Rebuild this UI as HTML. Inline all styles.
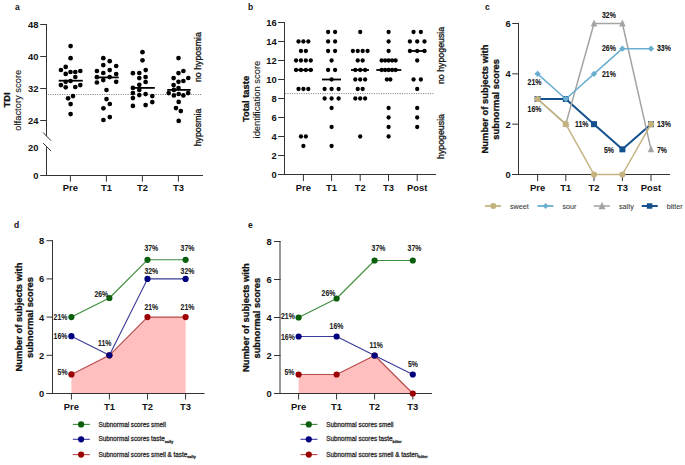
<!DOCTYPE html>
<html><head><meta charset="utf-8"><style>
html,body{margin:0;padding:0;background:#fff;width:685px;height:465px;overflow:hidden;position:relative}
</style></head><body>
<svg width="685" height="465" viewBox="0 0 685 465" style="position:absolute;left:0;top:0;font-family:'Liberation Sans', sans-serif">
<rect width="685" height="465" fill="#ffffff"/>
<text x="15" y="10" font-size="8.5" font-weight="bold" text-anchor="start" fill="#111111" >a</text>
<text x="248" y="10" font-size="8.5" font-weight="bold" text-anchor="start" fill="#111111" >b</text>
<text x="485" y="10" font-size="8.5" font-weight="bold" text-anchor="start" fill="#111111" >c</text>
<text x="14" y="228" font-size="8.5" font-weight="bold" text-anchor="start" fill="#111111" >d</text>
<text x="248" y="228" font-size="8.5" font-weight="bold" text-anchor="start" fill="#111111" >e</text>
<line x1="46.5" y1="24" x2="46.5" y2="136.2" stroke="#333333" stroke-width="1.0" />
<line x1="46.5" y1="147.2" x2="46.5" y2="175.5" stroke="#333333" stroke-width="1.0" />
<line x1="43.1" y1="132.5" x2="51" y2="140.7" stroke="#333333" stroke-width="1.0" />
<line x1="43.1" y1="143.1" x2="51" y2="151" stroke="#333333" stroke-width="1.0" />
<line x1="40.2" y1="175.5" x2="203" y2="175.5" stroke="#333333" stroke-width="1.0" />
<line x1="40.2" y1="24.5" x2="47.0" y2="24.5" stroke="#333333" stroke-width="1.0" />
<text x="38.4" y="27.9" font-size="9.4" font-weight="bold" text-anchor="end" fill="#111111" >48</text>
<line x1="40.2" y1="56.5" x2="47.0" y2="56.5" stroke="#333333" stroke-width="1.0" />
<text x="38.4" y="59.9" font-size="9.4" font-weight="bold" text-anchor="end" fill="#111111" >40</text>
<line x1="40.2" y1="88.5" x2="47.0" y2="88.5" stroke="#333333" stroke-width="1.0" />
<text x="38.4" y="91.9" font-size="9.4" font-weight="bold" text-anchor="end" fill="#111111" >32</text>
<line x1="40.2" y1="120.5" x2="47.0" y2="120.5" stroke="#333333" stroke-width="1.0" />
<text x="38.4" y="123.9" font-size="9.4" font-weight="bold" text-anchor="end" fill="#111111" >24</text>
<text x="38.4" y="150.8" font-size="9.4" font-weight="bold" text-anchor="end" fill="#111111" >20</text>
<text x="38.4" y="178.6" font-size="9.4" font-weight="bold" text-anchor="end" fill="#111111" >0</text>
<line x1="70.4" y1="175.2" x2="70.4" y2="181.6" stroke="#333333" stroke-width="1.0" />
<text x="70.4" y="191.4" font-size="9.4" font-weight="bold" text-anchor="middle" fill="#111111" >Pre</text>
<line x1="106.4" y1="175.2" x2="106.4" y2="181.6" stroke="#333333" stroke-width="1.0" />
<text x="106.4" y="191.4" font-size="9.4" font-weight="bold" text-anchor="middle" fill="#111111" >T1</text>
<line x1="142.4" y1="175.2" x2="142.4" y2="181.6" stroke="#333333" stroke-width="1.0" />
<text x="142.4" y="191.4" font-size="9.4" font-weight="bold" text-anchor="middle" fill="#111111" >T2</text>
<line x1="178.4" y1="175.2" x2="178.4" y2="181.6" stroke="#333333" stroke-width="1.0" />
<text x="178.4" y="191.4" font-size="9.4" font-weight="bold" text-anchor="middle" fill="#111111" >T3</text>
<text transform="translate(9.8,100) rotate(-90)" font-size="9.4" font-weight="bold" text-anchor="middle" fill="#111111" stroke="#111111" stroke-width="0.3">TDI</text>
<text transform="translate(21.1,100.2) rotate(-90)" font-size="9.4" font-weight="normal" text-anchor="middle" fill="#111111" stroke="#111111" stroke-width="0.1">olfactory score</text>
<text transform="translate(201.1,57.1) rotate(-90)" font-size="8.8" font-weight="normal" text-anchor="middle" fill="#111111" stroke="#111111" stroke-width="0.3">no hyposmia</text>
<text transform="translate(200.7,127.5) rotate(-90)" font-size="8.8" font-weight="normal" text-anchor="middle" fill="#111111" stroke="#111111" stroke-width="0.3">hyposmia</text>
<line x1="48" y1="94.5" x2="202" y2="94.5" stroke="#777777" stroke-width="0.9" stroke-dasharray="1.1 1.24"/>
<circle cx="70.6" cy="46.05" r="2.35" fill="#000"/>
<circle cx="70.6" cy="58.2" r="2.35" fill="#000"/>
<circle cx="65.7" cy="66.9" r="2.35" fill="#000"/>
<circle cx="60.9" cy="70" r="2.35" fill="#000"/>
<circle cx="65.7" cy="73.9" r="2.35" fill="#000"/>
<circle cx="70.5" cy="72" r="2.35" fill="#000"/>
<circle cx="75.3" cy="72" r="2.35" fill="#000"/>
<circle cx="80.3" cy="71" r="2.35" fill="#000"/>
<circle cx="75.3" cy="77" r="2.35" fill="#000"/>
<circle cx="65.7" cy="81.8" r="2.35" fill="#000"/>
<circle cx="70.5" cy="81" r="2.35" fill="#000"/>
<circle cx="60.9" cy="85.1" r="2.35" fill="#000"/>
<circle cx="65.7" cy="87.3" r="2.35" fill="#000"/>
<circle cx="75.3" cy="87" r="2.35" fill="#000"/>
<circle cx="80.3" cy="85.1" r="2.35" fill="#000"/>
<circle cx="73" cy="96.1" r="2.35" fill="#000"/>
<circle cx="68.1" cy="98.3" r="2.35" fill="#000"/>
<circle cx="70.6" cy="104.1" r="2.35" fill="#000"/>
<circle cx="70.6" cy="114.1" r="2.35" fill="#000"/>
<circle cx="103.3" cy="58.2" r="2.35" fill="#000"/>
<circle cx="109.7" cy="61.2" r="2.35" fill="#000"/>
<circle cx="103.3" cy="65.1" r="2.35" fill="#000"/>
<circle cx="116.2" cy="66" r="2.35" fill="#000"/>
<circle cx="96.9" cy="71" r="2.35" fill="#000"/>
<circle cx="109.7" cy="70.1" r="2.35" fill="#000"/>
<circle cx="103.3" cy="73" r="2.35" fill="#000"/>
<circle cx="116.2" cy="74" r="2.35" fill="#000"/>
<circle cx="96.9" cy="77.2" r="2.35" fill="#000"/>
<circle cx="109.7" cy="77.1" r="2.35" fill="#000"/>
<circle cx="103.3" cy="80.1" r="2.35" fill="#000"/>
<circle cx="96.9" cy="82.5" r="2.35" fill="#000"/>
<circle cx="116.2" cy="81.8" r="2.35" fill="#000"/>
<circle cx="106.5" cy="90" r="2.35" fill="#000"/>
<circle cx="106.5" cy="99.1" r="2.35" fill="#000"/>
<circle cx="109.8" cy="104" r="2.35" fill="#000"/>
<circle cx="103.4" cy="108.3" r="2.35" fill="#000"/>
<circle cx="109.8" cy="117.1" r="2.35" fill="#000"/>
<circle cx="103.4" cy="120" r="2.35" fill="#000"/>
<circle cx="142.5" cy="52.2" r="2.35" fill="#000"/>
<circle cx="142.5" cy="60.3" r="2.35" fill="#000"/>
<circle cx="145.7" cy="70.1" r="2.35" fill="#000"/>
<circle cx="132.9" cy="73.2" r="2.35" fill="#000"/>
<circle cx="139.3" cy="73" r="2.35" fill="#000"/>
<circle cx="139.3" cy="78.1" r="2.35" fill="#000"/>
<circle cx="145.6" cy="77.1" r="2.35" fill="#000"/>
<circle cx="145.6" cy="82" r="2.35" fill="#000"/>
<circle cx="139.3" cy="84.8" r="2.35" fill="#000"/>
<circle cx="132.9" cy="87.9" r="2.35" fill="#000"/>
<circle cx="139.3" cy="90" r="2.35" fill="#000"/>
<circle cx="132.9" cy="93.1" r="2.35" fill="#000"/>
<circle cx="139.3" cy="95.1" r="2.35" fill="#000"/>
<circle cx="145.6" cy="94.1" r="2.35" fill="#000"/>
<circle cx="152.3" cy="96.1" r="2.35" fill="#000"/>
<circle cx="132.9" cy="98.1" r="2.35" fill="#000"/>
<circle cx="152.3" cy="102.1" r="2.35" fill="#000"/>
<circle cx="132.9" cy="105.9" r="2.35" fill="#000"/>
<circle cx="145.6" cy="105.1" r="2.35" fill="#000"/>
<circle cx="178.5" cy="58.1" r="2.35" fill="#000"/>
<circle cx="183.4" cy="71" r="2.35" fill="#000"/>
<circle cx="178.5" cy="73.1" r="2.35" fill="#000"/>
<circle cx="173.6" cy="78.1" r="2.35" fill="#000"/>
<circle cx="188.3" cy="78" r="2.35" fill="#000"/>
<circle cx="178.5" cy="81.8" r="2.35" fill="#000"/>
<circle cx="183.4" cy="81" r="2.35" fill="#000"/>
<circle cx="173.6" cy="85.1" r="2.35" fill="#000"/>
<circle cx="178.5" cy="88" r="2.35" fill="#000"/>
<circle cx="173.9" cy="89.9" r="2.35" fill="#000"/>
<circle cx="168.7" cy="93.1" r="2.35" fill="#000"/>
<circle cx="173.9" cy="95.4" r="2.35" fill="#000"/>
<circle cx="178.7" cy="94" r="2.35" fill="#000"/>
<circle cx="183.4" cy="95.4" r="2.35" fill="#000"/>
<circle cx="188.2" cy="93.1" r="2.35" fill="#000"/>
<circle cx="178.7" cy="101.9" r="2.35" fill="#000"/>
<circle cx="176" cy="108.1" r="2.35" fill="#000"/>
<circle cx="180.8" cy="111.1" r="2.35" fill="#000"/>
<circle cx="178.7" cy="120.9" r="2.35" fill="#000"/>
<line x1="58.7" y1="80.7" x2="82.8" y2="80.7" stroke="#000" stroke-width="1.8" />
<line x1="96.2" y1="77.4" x2="118.7" y2="77.4" stroke="#000" stroke-width="1.8" />
<line x1="134.4" y1="87.9" x2="154.8" y2="87.9" stroke="#000" stroke-width="1.8" />
<line x1="167.2" y1="89.9" x2="190.6" y2="89.9" stroke="#000" stroke-width="1.8" />
<line x1="284.5" y1="22.0" x2="284.5" y2="174.5" stroke="#333333" stroke-width="1.0" />
<line x1="278.1" y1="174.5" x2="436" y2="174.5" stroke="#333333" stroke-width="1.0" />
<line x1="278.1" y1="174.5" x2="285.0" y2="174.5" stroke="#333333" stroke-width="1.0" />
<text x="276.8" y="177.9" font-size="9.4" font-weight="bold" text-anchor="end" fill="#111111" >0</text>
<line x1="278.1" y1="155.5" x2="285.0" y2="155.5" stroke="#333333" stroke-width="1.0" />
<text x="276.8" y="158.9" font-size="9.4" font-weight="bold" text-anchor="end" fill="#111111" >2</text>
<line x1="278.1" y1="136.5" x2="285.0" y2="136.5" stroke="#333333" stroke-width="1.0" />
<text x="276.8" y="139.9" font-size="9.4" font-weight="bold" text-anchor="end" fill="#111111" >4</text>
<line x1="278.1" y1="117.5" x2="285.0" y2="117.5" stroke="#333333" stroke-width="1.0" />
<text x="276.8" y="120.9" font-size="9.4" font-weight="bold" text-anchor="end" fill="#111111" >6</text>
<line x1="278.1" y1="98.5" x2="285.0" y2="98.5" stroke="#333333" stroke-width="1.0" />
<text x="276.8" y="101.9" font-size="9.4" font-weight="bold" text-anchor="end" fill="#111111" >8</text>
<line x1="278.1" y1="79.5" x2="285.0" y2="79.5" stroke="#333333" stroke-width="1.0" />
<text x="276.8" y="82.9" font-size="9.4" font-weight="bold" text-anchor="end" fill="#111111" >10</text>
<line x1="278.1" y1="60.5" x2="285.0" y2="60.5" stroke="#333333" stroke-width="1.0" />
<text x="276.8" y="63.9" font-size="9.4" font-weight="bold" text-anchor="end" fill="#111111" >12</text>
<line x1="278.1" y1="41.5" x2="285.0" y2="41.5" stroke="#333333" stroke-width="1.0" />
<text x="276.8" y="44.9" font-size="9.4" font-weight="bold" text-anchor="end" fill="#111111" >14</text>
<line x1="278.1" y1="22.5" x2="285.0" y2="22.5" stroke="#333333" stroke-width="1.0" />
<text x="276.8" y="25.9" font-size="9.4" font-weight="bold" text-anchor="end" fill="#111111" >16</text>
<line x1="303.4" y1="174.6" x2="303.4" y2="181" stroke="#333333" stroke-width="1.0" />
<text x="303.4" y="190.6" font-size="9.4" font-weight="bold" text-anchor="middle" fill="#111111" >Pre</text>
<line x1="331.6" y1="174.6" x2="331.6" y2="181" stroke="#333333" stroke-width="1.0" />
<text x="331.6" y="190.6" font-size="9.4" font-weight="bold" text-anchor="middle" fill="#111111" >T1</text>
<line x1="360.2" y1="174.6" x2="360.2" y2="181" stroke="#333333" stroke-width="1.0" />
<text x="360.2" y="190.6" font-size="9.4" font-weight="bold" text-anchor="middle" fill="#111111" >T2</text>
<line x1="388.5" y1="174.6" x2="388.5" y2="181" stroke="#333333" stroke-width="1.0" />
<text x="388.5" y="190.6" font-size="9.4" font-weight="bold" text-anchor="middle" fill="#111111" >T3</text>
<line x1="417.2" y1="174.6" x2="417.2" y2="181" stroke="#333333" stroke-width="1.0" />
<text x="417.2" y="190.6" font-size="9.4" font-weight="bold" text-anchor="middle" fill="#111111" >Post</text>
<text transform="translate(248.6,99) rotate(-90)" font-size="9.4" font-weight="bold" text-anchor="middle" fill="#111111" stroke="#111111" stroke-width="0.3">Total taste</text>
<text transform="translate(259.5,99.6) rotate(-90)" font-size="9.4" font-weight="normal" text-anchor="middle" fill="#111111" stroke="#111111" stroke-width="0.1">identification score</text>
<text transform="translate(444.2,55.45) rotate(-90)" font-size="8.8" font-weight="normal" text-anchor="middle" fill="#111111" stroke="#111111" stroke-width="0.3">no hypogeusia</text>
<text transform="translate(444.2,136.5) rotate(-90)" font-size="8.8" font-weight="normal" text-anchor="middle" fill="#111111" stroke="#111111" stroke-width="0.3">hypogeusia</text>
<line x1="285" y1="93.6" x2="434" y2="93.6" stroke="#777777" stroke-width="0.9" stroke-dasharray="1.1 1.24"/>
<circle cx="298.5" cy="41.5" r="2.15" fill="#000"/>
<circle cx="303.4" cy="41.5" r="2.15" fill="#000"/>
<circle cx="308.3" cy="41.5" r="2.15" fill="#000"/>
<circle cx="300.95" cy="51.0" r="2.15" fill="#000"/>
<circle cx="305.85" cy="51.0" r="2.15" fill="#000"/>
<circle cx="296.05" cy="60.5" r="2.15" fill="#000"/>
<circle cx="300.95" cy="60.5" r="2.15" fill="#000"/>
<circle cx="305.85" cy="60.5" r="2.15" fill="#000"/>
<circle cx="310.75" cy="60.5" r="2.15" fill="#000"/>
<circle cx="296.05" cy="70.0" r="2.15" fill="#000"/>
<circle cx="300.95" cy="70.0" r="2.15" fill="#000"/>
<circle cx="305.85" cy="70.0" r="2.15" fill="#000"/>
<circle cx="310.75" cy="70.0" r="2.15" fill="#000"/>
<circle cx="298.5" cy="89.0" r="2.15" fill="#000"/>
<circle cx="303.4" cy="89.0" r="2.15" fill="#000"/>
<circle cx="308.3" cy="89.0" r="2.15" fill="#000"/>
<circle cx="300.95" cy="136.5" r="2.15" fill="#000"/>
<circle cx="305.85" cy="136.5" r="2.15" fill="#000"/>
<circle cx="303.4" cy="146.0" r="2.15" fill="#000"/>
<circle cx="328.1" cy="32.0" r="2.15" fill="#000"/>
<circle cx="335.1" cy="32.0" r="2.15" fill="#000"/>
<circle cx="328.1" cy="41.5" r="2.15" fill="#000"/>
<circle cx="335.1" cy="41.5" r="2.15" fill="#000"/>
<circle cx="328.1" cy="51.0" r="2.15" fill="#000"/>
<circle cx="335.1" cy="51.0" r="2.15" fill="#000"/>
<circle cx="331.6" cy="60.5" r="2.15" fill="#000"/>
<circle cx="328.1" cy="70.0" r="2.15" fill="#000"/>
<circle cx="335.1" cy="70.0" r="2.15" fill="#000"/>
<circle cx="331.6" cy="79.5" r="2.15" fill="#000"/>
<circle cx="324.6" cy="89.0" r="2.15" fill="#000"/>
<circle cx="331.6" cy="89.0" r="2.15" fill="#000"/>
<circle cx="338.6" cy="89.0" r="2.15" fill="#000"/>
<circle cx="324.6" cy="98.5" r="2.15" fill="#000"/>
<circle cx="331.6" cy="98.5" r="2.15" fill="#000"/>
<circle cx="338.6" cy="98.5" r="2.15" fill="#000"/>
<circle cx="331.6" cy="108.0" r="2.15" fill="#000"/>
<circle cx="331.6" cy="127.0" r="2.15" fill="#000"/>
<circle cx="331.6" cy="146.0" r="2.15" fill="#000"/>
<circle cx="360.2" cy="32.0" r="2.15" fill="#000"/>
<circle cx="352.85" cy="51.0" r="2.15" fill="#000"/>
<circle cx="357.75" cy="51.0" r="2.15" fill="#000"/>
<circle cx="362.65" cy="51.0" r="2.15" fill="#000"/>
<circle cx="367.55" cy="51.0" r="2.15" fill="#000"/>
<circle cx="357.75" cy="60.5" r="2.15" fill="#000"/>
<circle cx="362.65" cy="60.5" r="2.15" fill="#000"/>
<circle cx="355.3" cy="70.0" r="2.15" fill="#000"/>
<circle cx="360.2" cy="70.0" r="2.15" fill="#000"/>
<circle cx="365.1" cy="70.0" r="2.15" fill="#000"/>
<circle cx="355.3" cy="79.5" r="2.15" fill="#000"/>
<circle cx="360.2" cy="79.5" r="2.15" fill="#000"/>
<circle cx="365.1" cy="79.5" r="2.15" fill="#000"/>
<circle cx="357.75" cy="89.0" r="2.15" fill="#000"/>
<circle cx="362.65" cy="89.0" r="2.15" fill="#000"/>
<circle cx="355.3" cy="98.5" r="2.15" fill="#000"/>
<circle cx="360.2" cy="98.5" r="2.15" fill="#000"/>
<circle cx="365.1" cy="98.5" r="2.15" fill="#000"/>
<circle cx="360.2" cy="136.5" r="2.15" fill="#000"/>
<circle cx="388.6" cy="32.0" r="2.15" fill="#000"/>
<circle cx="388.6" cy="41.5" r="2.15" fill="#000"/>
<circle cx="388.6" cy="51.0" r="2.15" fill="#000"/>
<circle cx="381.6" cy="60.5" r="2.15" fill="#000"/>
<circle cx="385.1" cy="60.5" r="2.15" fill="#000"/>
<circle cx="388.6" cy="60.5" r="2.15" fill="#000"/>
<circle cx="392.1" cy="60.5" r="2.15" fill="#000"/>
<circle cx="395.6" cy="60.5" r="2.15" fill="#000"/>
<circle cx="381.6" cy="70.0" r="2.15" fill="#000"/>
<circle cx="385.1" cy="70.0" r="2.15" fill="#000"/>
<circle cx="388.6" cy="70.0" r="2.15" fill="#000"/>
<circle cx="392.1" cy="70.0" r="2.15" fill="#000"/>
<circle cx="395.6" cy="70.0" r="2.15" fill="#000"/>
<circle cx="386.85" cy="79.5" r="2.15" fill="#000"/>
<circle cx="390.35" cy="79.5" r="2.15" fill="#000"/>
<circle cx="388.6" cy="108.0" r="2.15" fill="#000"/>
<circle cx="388.6" cy="117.5" r="2.15" fill="#000"/>
<circle cx="388.6" cy="127.0" r="2.15" fill="#000"/>
<circle cx="388.6" cy="136.5" r="2.15" fill="#000"/>
<circle cx="413.55" cy="32.0" r="2.15" fill="#000"/>
<circle cx="420.85" cy="32.0" r="2.15" fill="#000"/>
<circle cx="409.9" cy="41.5" r="2.15" fill="#000"/>
<circle cx="417.2" cy="41.5" r="2.15" fill="#000"/>
<circle cx="424.5" cy="41.5" r="2.15" fill="#000"/>
<circle cx="409.9" cy="51.0" r="2.15" fill="#000"/>
<circle cx="417.2" cy="51.0" r="2.15" fill="#000"/>
<circle cx="424.5" cy="51.0" r="2.15" fill="#000"/>
<circle cx="417.2" cy="60.5" r="2.15" fill="#000"/>
<circle cx="413.55" cy="79.5" r="2.15" fill="#000"/>
<circle cx="420.85" cy="79.5" r="2.15" fill="#000"/>
<circle cx="417.2" cy="89.0" r="2.15" fill="#000"/>
<circle cx="417.2" cy="108.0" r="2.15" fill="#000"/>
<circle cx="417.2" cy="117.5" r="2.15" fill="#000"/>
<circle cx="417.2" cy="127.0" r="2.15" fill="#000"/>
<line x1="294" y1="70.0" x2="313" y2="70.0" stroke="#000" stroke-width="1.8" />
<line x1="322" y1="79.5" x2="341" y2="79.5" stroke="#000" stroke-width="1.8" />
<line x1="351" y1="70.0" x2="369" y2="70.0" stroke="#000" stroke-width="1.8" />
<line x1="376.3" y1="70.0" x2="401.3" y2="70.0" stroke="#000" stroke-width="1.8" />
<line x1="408" y1="51.0" x2="426.3" y2="51.0" stroke="#000" stroke-width="1.8" />
<line x1="518.5" y1="23" x2="518.5" y2="174.5" stroke="#333333" stroke-width="1.0" />
<line x1="512.2" y1="174.5" x2="670" y2="174.5" stroke="#333333" stroke-width="1.0" />
<line x1="512.2" y1="174.5" x2="519.0" y2="174.5" stroke="#333333" stroke-width="1.0" />
<text x="510.8" y="177.9" font-size="9.4" font-weight="bold" text-anchor="end" fill="#111111" >0</text>
<line x1="512.2" y1="124.1666" x2="519.0" y2="124.1666" stroke="#333333" stroke-width="1.0" />
<text x="510.8" y="127.56660000000001" font-size="9.4" font-weight="bold" text-anchor="end" fill="#111111" >2</text>
<line x1="512.2" y1="73.8332" x2="519.0" y2="73.8332" stroke="#333333" stroke-width="1.0" />
<text x="510.8" y="77.23320000000001" font-size="9.4" font-weight="bold" text-anchor="end" fill="#111111" >4</text>
<line x1="512.2" y1="23.499799999999993" x2="519.0" y2="23.499799999999993" stroke="#333333" stroke-width="1.0" />
<text x="510.8" y="26.899799999999992" font-size="9.4" font-weight="bold" text-anchor="end" fill="#111111" >6</text>
<line x1="537.6" y1="174.6" x2="537.6" y2="181" stroke="#333333" stroke-width="1.0" />
<text x="537.6" y="191.2" font-size="9.4" font-weight="bold" text-anchor="middle" fill="#111111" >Pre</text>
<line x1="565.8" y1="174.6" x2="565.8" y2="181" stroke="#333333" stroke-width="1.0" />
<text x="565.8" y="191.2" font-size="9.4" font-weight="bold" text-anchor="middle" fill="#111111" >T1</text>
<line x1="594" y1="174.6" x2="594" y2="181" stroke="#333333" stroke-width="1.0" />
<text x="594" y="191.2" font-size="9.4" font-weight="bold" text-anchor="middle" fill="#111111" >T2</text>
<line x1="622.4" y1="174.6" x2="622.4" y2="181" stroke="#333333" stroke-width="1.0" />
<text x="622.4" y="191.2" font-size="9.4" font-weight="bold" text-anchor="middle" fill="#111111" >T3</text>
<line x1="651" y1="174.6" x2="651" y2="181" stroke="#333333" stroke-width="1.0" />
<text x="651" y="191.2" font-size="9.4" font-weight="bold" text-anchor="middle" fill="#111111" >Post</text>
<text transform="translate(488.4,99) rotate(-90)" font-size="9.4" font-weight="bold" text-anchor="middle" fill="#111111" stroke="#111111" stroke-width="0.3">Number of subjects with</text>
<text transform="translate(499.2,99.35) rotate(-90)" font-size="9.4" font-weight="bold" text-anchor="middle" fill="#111111" stroke="#111111" stroke-width="0.3">subnormal scores</text>
<polyline points="537.6,98.9999 565.8,98.9999 594,124.1666 622.4,149.3333 651,124.1666" fill="none" stroke="#15508f" stroke-width="2.0" stroke-linejoin="round"/>
<rect x="534.6" y="95.9999" width="6.0" height="6.0" fill="#15508f"/>
<rect x="562.8" y="95.9999" width="6.0" height="6.0" fill="#15508f"/>
<rect x="591.0" y="121.1666" width="6.0" height="6.0" fill="#15508f"/>
<rect x="619.4" y="146.3333" width="6.0" height="6.0" fill="#15508f"/>
<rect x="648.0" y="121.1666" width="6.0" height="6.0" fill="#15508f"/>
<polyline points="537.6,98.9999 565.8,124.1666 594,23.499799999999993 622.4,23.499799999999993 651,149.3333" fill="none" stroke="#a3a3a3" stroke-width="1.5" stroke-linejoin="round"/>
<polygon points="565.8,120.2666 562.55,127.0916 569.05,127.0916" fill="#a3a3a3"/>
<polygon points="594,19.599799999999995 590.75,26.424799999999994 597.25,26.424799999999994" fill="#a3a3a3"/>
<polygon points="622.4,19.599799999999995 619.15,26.424799999999994 625.65,26.424799999999994" fill="#a3a3a3"/>
<polygon points="651,145.4333 647.75,152.25830000000002 654.25,152.25830000000002" fill="#a3a3a3"/>
<polyline points="537.6,73.8332 565.8,98.9999 594,73.8332 622.4,48.66650000000001 651,48.66650000000001" fill="none" stroke="#6aaed0" stroke-width="1.5" stroke-linejoin="round"/>
<polygon points="537.6,70.6332 540.8000000000001,73.8332 537.6,77.03320000000001 534.4,73.8332" fill="#6aaed0"/>
<polygon points="565.8,95.7999 569.0,98.9999 565.8,102.1999 562.5999999999999,98.9999" fill="#6aaed0"/>
<polygon points="594,70.6332 597.2,73.8332 594,77.03320000000001 590.8,73.8332" fill="#6aaed0"/>
<polygon points="622.4,45.46650000000001 625.6,48.66650000000001 622.4,51.866500000000016 619.1999999999999,48.66650000000001" fill="#6aaed0"/>
<polygon points="651,45.46650000000001 654.2,48.66650000000001 651,51.866500000000016 647.8,48.66650000000001" fill="#6aaed0"/>
<polyline points="537.6,98.9999 565.8,124.1666 594,174.5 622.4,174.5 651,124.1666" fill="none" stroke="#c4b27f" stroke-width="1.5" stroke-linejoin="round"/>
<circle cx="537.6" cy="98.9999" r="3.1" fill="#c4b27f"/>
<circle cx="565.8" cy="124.1666" r="3.1" fill="#c4b27f"/>
<circle cx="594" cy="174.5" r="3.1" fill="#c4b27f"/>
<circle cx="622.4" cy="174.5" r="3.1" fill="#c4b27f"/>
<circle cx="651" cy="124.1666" r="3.1" fill="#c4b27f"/>
<text transform="translate(527.6,85.4) scale(0.82,1)" font-size="8.5" font-weight="bold" fill="#111111" stroke="#111111" stroke-width="0.08">21%</text>
<text transform="translate(527.6,112.0) scale(0.82,1)" font-size="8.5" font-weight="bold" fill="#111111" stroke="#111111" stroke-width="0.08">16%</text>
<text transform="translate(575,127.4) scale(0.82,1)" font-size="8.5" font-weight="bold" fill="#111111" stroke="#111111" stroke-width="0.08">11%</text>
<text transform="translate(604,153.0) scale(0.82,1)" font-size="8.5" font-weight="bold" fill="#111111" stroke="#111111" stroke-width="0.08">5%</text>
<text transform="translate(602,18.3) scale(0.82,1)" font-size="8.5" font-weight="bold" fill="#111111" stroke="#111111" stroke-width="0.08">32%</text>
<text transform="translate(602,51.4) scale(0.82,1)" font-size="8.5" font-weight="bold" fill="#111111" stroke="#111111" stroke-width="0.08">26%</text>
<text transform="translate(602,77.0) scale(0.82,1)" font-size="8.5" font-weight="bold" fill="#111111" stroke="#111111" stroke-width="0.08">21%</text>
<text transform="translate(657,51.0) scale(0.82,1)" font-size="8.5" font-weight="bold" fill="#111111" stroke="#111111" stroke-width="0.08">33%</text>
<text transform="translate(657,127.0) scale(0.82,1)" font-size="8.5" font-weight="bold" fill="#111111" stroke="#111111" stroke-width="0.08">13%</text>
<text transform="translate(657,153.0) scale(0.82,1)" font-size="8.5" font-weight="bold" fill="#111111" stroke="#111111" stroke-width="0.08">7%</text>
<line x1="485" y1="206" x2="501" y2="206" stroke="#c4b27f" stroke-width="1.8" />
<circle cx="493.3" cy="206" r="3" fill="#c4b27f"/>
<text x="510" y="208.6" font-size="7.2" font-weight="normal" text-anchor="start" fill="#3a3a3a" stroke="#3a3a3a" stroke-width="0.08">sweet</text>
<line x1="537.5" y1="206" x2="553.4" y2="206" stroke="#6aaed0" stroke-width="1.8" />
<polygon points="545.6,203.0 548.6,206 545.6,209.0 542.6,206" fill="#6aaed0"/>
<text x="562.5" y="208.6" font-size="7.2" font-weight="normal" text-anchor="start" fill="#3a3a3a" stroke="#3a3a3a" stroke-width="0.08">sour</text>
<line x1="593.6" y1="206" x2="610" y2="206" stroke="#a3a3a3" stroke-width="1.5" />
<polygon points="602,201.8 598.5,209.15 605.5,209.15" fill="#a3a3a3"/>
<text x="619" y="208.6" font-size="7.2" font-weight="normal" text-anchor="start" fill="#3a3a3a" stroke="#3a3a3a" stroke-width="0.08">salty</text>
<line x1="641.75" y1="206" x2="657.7" y2="206" stroke="#15508f" stroke-width="2" />
<rect x="646.85" y="203.25" width="5.5" height="5.5" fill="#15508f"/>
<text x="666.75" y="208.6" font-size="7.2" font-weight="normal" text-anchor="start" fill="#3a3a3a" stroke="#3a3a3a" stroke-width="0.08">bitter</text>
<polygon points="71.4,393.5 71.4,374.4 109.4,355.3 147.5,317.1 185.6,317.1 185.6,393.5" fill="#ffbfbf"/>
<line x1="52.5" y1="240.2" x2="52.5" y2="393.5" stroke="#333333" stroke-width="1.0" />
<line x1="46.5" y1="393.5" x2="204.5" y2="393.5" stroke="#333333" stroke-width="1.0" />
<line x1="46.5" y1="393.5" x2="53.0" y2="393.5" stroke="#333333" stroke-width="1.0" />
<text x="44.1" y="396.9" font-size="9.4" font-weight="bold" text-anchor="end" fill="#111111" >0</text>
<line x1="46.5" y1="355.3" x2="53.0" y2="355.3" stroke="#333333" stroke-width="1.0" />
<text x="44.1" y="358.7" font-size="9.4" font-weight="bold" text-anchor="end" fill="#111111" >2</text>
<line x1="46.5" y1="317.1" x2="53.0" y2="317.1" stroke="#333333" stroke-width="1.0" />
<text x="44.1" y="320.5" font-size="9.4" font-weight="bold" text-anchor="end" fill="#111111" >4</text>
<line x1="46.5" y1="278.9" x2="53.0" y2="278.9" stroke="#333333" stroke-width="1.0" />
<text x="44.1" y="282.29999999999995" font-size="9.4" font-weight="bold" text-anchor="end" fill="#111111" >6</text>
<line x1="46.5" y1="240.7" x2="53.0" y2="240.7" stroke="#333333" stroke-width="1.0" />
<text x="44.1" y="244.1" font-size="9.4" font-weight="bold" text-anchor="end" fill="#111111" >8</text>
<line x1="71.4" y1="393" x2="71.4" y2="399.5" stroke="#333333" stroke-width="1.0" />
<text x="71.4" y="409.5" font-size="9.4" font-weight="bold" text-anchor="middle" fill="#111111" >Pre</text>
<line x1="109.4" y1="393" x2="109.4" y2="399.5" stroke="#333333" stroke-width="1.0" />
<text x="109.4" y="409.5" font-size="9.4" font-weight="bold" text-anchor="middle" fill="#111111" >T1</text>
<line x1="147.5" y1="393" x2="147.5" y2="399.5" stroke="#333333" stroke-width="1.0" />
<text x="147.5" y="409.5" font-size="9.4" font-weight="bold" text-anchor="middle" fill="#111111" >T2</text>
<line x1="185.6" y1="393" x2="185.6" y2="399.5" stroke="#333333" stroke-width="1.0" />
<text x="185.6" y="409.5" font-size="9.4" font-weight="bold" text-anchor="middle" fill="#111111" >T3</text>
<polyline points="71.4,374.4 109.4,355.3 147.5,317.1 185.6,317.1" fill="none" stroke="#b84a4a" stroke-width="1.1" stroke-linejoin="round"/>
<polyline points="71.4,336.2 109.4,355.3 147.5,278.9 185.6,278.9" fill="none" stroke="#3a3a9a" stroke-width="1.1" stroke-linejoin="round"/>
<polyline points="71.4,317.1 109.4,298.0 147.5,259.79999999999995 185.6,259.79999999999995" fill="none" stroke="#3d8b3d" stroke-width="1.1" stroke-linejoin="round"/>
<circle cx="71.4" cy="374.4" r="3.1" fill="#9c0000"/>
<circle cx="109.4" cy="355.3" r="3.1" fill="#9c0000"/>
<circle cx="147.5" cy="317.1" r="3.1" fill="#9c0000"/>
<circle cx="185.6" cy="317.1" r="3.1" fill="#9c0000"/>
<circle cx="71.4" cy="336.2" r="3.1" fill="#00007f"/>
<circle cx="109.4" cy="355.3" r="3.1" fill="#00007f"/>
<circle cx="147.5" cy="278.9" r="3.1" fill="#00007f"/>
<circle cx="185.6" cy="278.9" r="3.1" fill="#00007f"/>
<circle cx="71.4" cy="317.1" r="3.1" fill="#0b5e0b"/>
<circle cx="109.4" cy="298.0" r="3.1" fill="#0b5e0b"/>
<circle cx="147.5" cy="259.79999999999995" r="3.1" fill="#0b5e0b"/>
<circle cx="185.6" cy="259.79999999999995" r="3.1" fill="#0b5e0b"/>
<text transform="translate(53.6,320.0) scale(0.82,1)" font-size="8.4" font-weight="bold" fill="#222" stroke="#222" stroke-width="0.08">21%</text>
<text transform="translate(53.6,339.0) scale(0.82,1)" font-size="8.4" font-weight="bold" fill="#222" stroke="#222" stroke-width="0.08">16%</text>
<text transform="translate(57.6,375.4) scale(0.82,1)" font-size="8.4" font-weight="bold" fill="#222" stroke="#222" stroke-width="0.08">5%</text>
<text transform="translate(94.4,296.6) scale(0.82,1)" font-size="8.4" font-weight="bold" fill="#222" stroke="#222" stroke-width="0.08">26%</text>
<text transform="translate(98,346.4) scale(0.82,1)" font-size="8.4" font-weight="bold" fill="#222" stroke="#222" stroke-width="0.08">11%</text>
<text transform="translate(144.4,251.0) scale(0.82,1)" font-size="8.4" font-weight="bold" fill="#222" stroke="#222" stroke-width="0.08">37%</text>
<text transform="translate(144.4,273.6) scale(0.82,1)" font-size="8.4" font-weight="bold" fill="#222" stroke="#222" stroke-width="0.08">32%</text>
<text transform="translate(144.4,310.4) scale(0.82,1)" font-size="8.4" font-weight="bold" fill="#222" stroke="#222" stroke-width="0.08">21%</text>
<text transform="translate(180.6,251.0) scale(0.82,1)" font-size="8.4" font-weight="bold" fill="#222" stroke="#222" stroke-width="0.08">37%</text>
<text transform="translate(180.6,273.6) scale(0.82,1)" font-size="8.4" font-weight="bold" fill="#222" stroke="#222" stroke-width="0.08">32%</text>
<text transform="translate(180.6,310.4) scale(0.82,1)" font-size="8.4" font-weight="bold" fill="#222" stroke="#222" stroke-width="0.08">21%</text>
<line x1="72.8" y1="424.4" x2="89.8" y2="424.4" stroke="#3d8b3d" stroke-width="1.1" />
<circle cx="81.1" cy="424.4" r="3.1" fill="#0b5e0b"/>
<line x1="72.8" y1="439.3" x2="89.8" y2="439.3" stroke="#3a3a9a" stroke-width="1.1" />
<circle cx="81.1" cy="439.3" r="3.1" fill="#00007f"/>
<line x1="72.8" y1="454.6" x2="89.8" y2="454.6" stroke="#b84a4a" stroke-width="1.1" />
<circle cx="81.1" cy="454.6" r="3.1" fill="#9c0000"/>
<text x="98.6" y="426.7" font-size="6.3" font-weight="normal" text-anchor="start" fill="#333"  stroke="#333" stroke-width="0.3">Subnormal scores smell</text>
<text x="98.6" y="441.2" font-size="6.3" font-weight="normal" text-anchor="start" fill="#333"  stroke="#333" stroke-width="0.3">Subnormal scores taste<tspan font-size="4.2" dy="1.6">salty</tspan></text>
<text x="98.6" y="456.8" font-size="6.3" font-weight="normal" text-anchor="start" fill="#333"  stroke="#333" stroke-width="0.3">Subnormal scores smell &amp; taste<tspan font-size="4.2" dy="1.6">salty</tspan></text>
<text transform="translate(21.9,317) rotate(-90)" font-size="9.4" font-weight="bold" text-anchor="middle" fill="#111111" stroke="#111111" stroke-width="0.3">Number of subjects with</text>
<text transform="translate(33,317.5) rotate(-90)" font-size="9.4" font-weight="bold" text-anchor="middle" fill="#111111" stroke="#111111" stroke-width="0.3">subnormal scores</text>
<polygon points="298.6,393.5 298.6,374.5 336.6,374.5 374.6,355.5 412.8,393.5 412.8,393.5" fill="#ffbfbf"/>
<line x1="280" y1="241.0" x2="280" y2="393.5" stroke="#333333" stroke-width="1.0" />
<line x1="274" y1="393.5" x2="432" y2="393.5" stroke="#333333" stroke-width="1.0" />
<line x1="274" y1="393.5" x2="280.5" y2="393.5" stroke="#333333" stroke-width="1.0" />
<text x="271.6" y="396.9" font-size="9.4" font-weight="bold" text-anchor="end" fill="#111111" >0</text>
<line x1="274" y1="355.5" x2="280.5" y2="355.5" stroke="#333333" stroke-width="1.0" />
<text x="271.6" y="358.9" font-size="9.4" font-weight="bold" text-anchor="end" fill="#111111" >2</text>
<line x1="274" y1="317.5" x2="280.5" y2="317.5" stroke="#333333" stroke-width="1.0" />
<text x="271.6" y="320.9" font-size="9.4" font-weight="bold" text-anchor="end" fill="#111111" >4</text>
<line x1="274" y1="279.5" x2="280.5" y2="279.5" stroke="#333333" stroke-width="1.0" />
<text x="271.6" y="282.9" font-size="9.4" font-weight="bold" text-anchor="end" fill="#111111" >6</text>
<line x1="274" y1="241.5" x2="280.5" y2="241.5" stroke="#333333" stroke-width="1.0" />
<text x="271.6" y="244.9" font-size="9.4" font-weight="bold" text-anchor="end" fill="#111111" >8</text>
<line x1="298.6" y1="393" x2="298.6" y2="399.5" stroke="#333333" stroke-width="1.0" />
<text x="298.6" y="409.5" font-size="9.4" font-weight="bold" text-anchor="middle" fill="#111111" >Pre</text>
<line x1="336.6" y1="393" x2="336.6" y2="399.5" stroke="#333333" stroke-width="1.0" />
<text x="336.6" y="409.5" font-size="9.4" font-weight="bold" text-anchor="middle" fill="#111111" >T1</text>
<line x1="374.6" y1="393" x2="374.6" y2="399.5" stroke="#333333" stroke-width="1.0" />
<text x="374.6" y="409.5" font-size="9.4" font-weight="bold" text-anchor="middle" fill="#111111" >T2</text>
<line x1="412.8" y1="393" x2="412.8" y2="399.5" stroke="#333333" stroke-width="1.0" />
<text x="412.8" y="409.5" font-size="9.4" font-weight="bold" text-anchor="middle" fill="#111111" >T3</text>
<polyline points="298.6,374.5 336.6,374.5 374.6,355.5 412.8,393.5" fill="none" stroke="#b84a4a" stroke-width="1.1" stroke-linejoin="round"/>
<polyline points="298.6,336.5 336.6,336.5 374.6,355.5 412.8,374.5" fill="none" stroke="#3a3a9a" stroke-width="1.1" stroke-linejoin="round"/>
<polyline points="298.6,317.5 336.6,298.5 374.6,260.5 412.8,260.5" fill="none" stroke="#3d8b3d" stroke-width="1.1" stroke-linejoin="round"/>
<circle cx="298.6" cy="374.5" r="3.1" fill="#9c0000"/>
<circle cx="336.6" cy="374.5" r="3.1" fill="#9c0000"/>
<circle cx="374.6" cy="355.5" r="3.1" fill="#9c0000"/>
<circle cx="412.8" cy="393.5" r="3.1" fill="#9c0000"/>
<circle cx="298.6" cy="336.5" r="3.1" fill="#00007f"/>
<circle cx="336.6" cy="336.5" r="3.1" fill="#00007f"/>
<circle cx="374.6" cy="355.5" r="3.1" fill="#00007f"/>
<circle cx="412.8" cy="374.5" r="3.1" fill="#00007f"/>
<circle cx="298.6" cy="317.5" r="3.1" fill="#0b5e0b"/>
<circle cx="336.6" cy="298.5" r="3.1" fill="#0b5e0b"/>
<circle cx="374.6" cy="260.5" r="3.1" fill="#0b5e0b"/>
<circle cx="412.8" cy="260.5" r="3.1" fill="#0b5e0b"/>
<text transform="translate(281,318.6) scale(0.82,1)" font-size="8.4" font-weight="bold" fill="#222" stroke="#222" stroke-width="0.08">21%</text>
<text transform="translate(281,339.6) scale(0.82,1)" font-size="8.4" font-weight="bold" fill="#222" stroke="#222" stroke-width="0.08">16%</text>
<text transform="translate(284.4,374.6) scale(0.82,1)" font-size="8.4" font-weight="bold" fill="#222" stroke="#222" stroke-width="0.08">5%</text>
<text transform="translate(321.6,295.6) scale(0.82,1)" font-size="8.4" font-weight="bold" fill="#222" stroke="#222" stroke-width="0.08">26%</text>
<text transform="translate(329.6,329.0) scale(0.82,1)" font-size="8.4" font-weight="bold" fill="#222" stroke="#222" stroke-width="0.08">16%</text>
<text transform="translate(371.6,250.6) scale(0.82,1)" font-size="8.4" font-weight="bold" fill="#222" stroke="#222" stroke-width="0.08">37%</text>
<text transform="translate(407.6,250.6) scale(0.82,1)" font-size="8.4" font-weight="bold" fill="#222" stroke="#222" stroke-width="0.08">37%</text>
<text transform="translate(369.6,348.0) scale(0.82,1)" font-size="8.4" font-weight="bold" fill="#222" stroke="#222" stroke-width="0.08">11%</text>
<text transform="translate(408,367.0) scale(0.82,1)" font-size="8.4" font-weight="bold" fill="#222" stroke="#222" stroke-width="0.08">5%</text>
<line x1="300.5" y1="424.4" x2="317.5" y2="424.4" stroke="#3d8b3d" stroke-width="1.1" />
<circle cx="308.8" cy="424.4" r="3.1" fill="#0b5e0b"/>
<line x1="300.5" y1="439.3" x2="317.5" y2="439.3" stroke="#3a3a9a" stroke-width="1.1" />
<circle cx="308.8" cy="439.3" r="3.1" fill="#00007f"/>
<line x1="300.5" y1="454.6" x2="317.5" y2="454.6" stroke="#b84a4a" stroke-width="1.1" />
<circle cx="308.8" cy="454.6" r="3.1" fill="#9c0000"/>
<text x="326.3" y="426.7" font-size="6.3" font-weight="normal" text-anchor="start" fill="#333"  stroke="#333" stroke-width="0.3">Subnormal scores smell</text>
<text x="326.3" y="441.2" font-size="6.3" font-weight="normal" text-anchor="start" fill="#333"  stroke="#333" stroke-width="0.3">Subnormal scores taste<tspan font-size="4.2" dy="1.6">bitter</tspan></text>
<text x="326.3" y="456.8" font-size="6.3" font-weight="normal" text-anchor="start" fill="#333"  stroke="#333" stroke-width="0.3">Subnormal scores smell &amp; tasten<tspan font-size="4.2" dy="1.6">bitter</tspan></text>
<text transform="translate(248.6,317.6) rotate(-90)" font-size="9.4" font-weight="bold" text-anchor="middle" fill="#111111" stroke="#111111" stroke-width="0.3">Number of subjects with</text>
<text transform="translate(259.8,318.2) rotate(-90)" font-size="9.4" font-weight="bold" text-anchor="middle" fill="#111111" stroke="#111111" stroke-width="0.3">subnormal scores</text>
</svg>
</body></html>
